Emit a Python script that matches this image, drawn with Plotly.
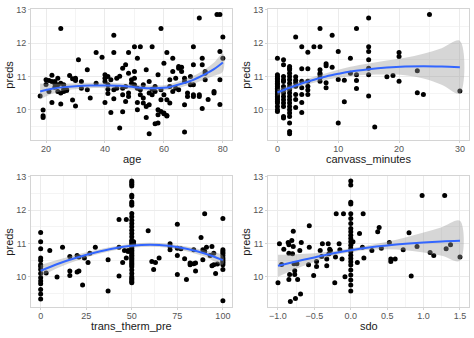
import plotly.graph_objects as go

# ---------------- data ----------------
age_x = [18, 19, 19, 19, 20, 21, 21, 22, 22, 22,
         23, 23, 24, 24, 25, 25, 25, 25, 26, 26,
         27, 28, 29, 29, 30, 30, 30, 31, 32, 32,
         34, 34, 35, 37, 37, 39, 40, 40, 40, 40,
         41, 41, 41, 41, 42, 42, 43, 43, 43, 43,
         44, 45, 45, 46, 46, 46, 46, 47, 47, 48,
         48, 48, 48, 49, 49, 50, 50, 50, 50, 51,
         51, 51, 51, 52, 52, 52, 53, 53, 53, 54,
         55, 54, 54, 55, 55, 56, 56, 56, 57, 57,
         58, 58, 58, 59, 58, 59, 59, 59, 60, 60,
         60, 60, 61, 61, 61, 61, 62, 62, 62, 63,
         63, 64, 64, 65, 65, 66, 66, 67, 67, 68,
         68, 67, 67, 69, 69, 70, 70, 70, 70, 70,
         72, 72, 72, 73, 73, 73, 74, 74, 74, 75,
         77, 77, 78, 79, 79, 79, 79, 80, 80, 20,
         23, 24, 26, 27, 44, 47, 55, 57, 63, 65]
age_preds = [10.41, 9.99, 9.82, 9.77, 10.76, 10.88, 10.55, 11.04, 10.85, 10.22,
             10.78, 10.68, 10.95, 10.55, 12.44, 10.80, 10.17, 10.50, 10.75, 10.55,
             10.60, 11.03, 10.93, 10.29, 10.88, 10.11, 10.95, 11.50, 10.85, 10.65,
             11.20, 10.60, 10.35, 11.72, 10.80, 11.58, 11.05, 10.95, 10.85, 10.22,
             11.00, 10.75, 10.49, 10.62, 9.92, 10.90, 12.24, 11.72, 10.33, 10.60,
             10.65, 11.01, 9.45, 11.25, 10.65, 10.45, 9.94, 11.35, 10.70, 11.10,
             10.50, 11.72, 10.40, 10.90, 10.80, 11.15, 11.89, 10.95, 10.75, 10.65,
             10.22, 10.00, 11.55, 11.89, 10.60, 10.45, 10.75, 10.35, 10.20, 9.77,
             9.28, 11.20, 10.10, 10.15, 10.50, 10.62, 10.45, 11.89, 10.70, 10.55,
             10.00, 9.60, 9.85, 12.44, 11.05, 10.60, 10.30, 9.95, 9.90, 9.88,
             11.40, 10.45, 10.30, 9.83, 9.81, 11.72, 10.90, 10.70, 10.20, 11.55,
             11.15, 10.95, 10.65, 11.30, 11.25, 11.15, 11.28, 10.95, 10.85, 10.50,
             10.40, 9.33, 10.15, 11.00, 10.75, 10.45, 10.40, 11.89, 11.35, 10.75,
             10.45, 10.40, 12.76, 10.04, 11.55, 11.35, 11.15, 10.90, 11.10, 10.31,
             10.50, 10.55, 12.86, 12.86, 11.75, 10.90, 10.16, 12.19, 11.55, 10.90,
             10.85, 10.75, 10.62, 10.58, 10.95, 10.25, 10.85, 9.58, 10.55, 10.60]

canvass_x = [0] * 22 + [1] * 14 + [2] * 20 + [3] * 8 + [4] * 7 + [5] * 6 + [6] + [7] * 7 + \
            [8] * 4 + [9] * 2 + [10] * 3 + [11] * 2 + [12] * 2 + [13] * 4 + [15] * 7 + [16, 18, 19] + \
            [20] * 3 + [23, 23, 24, 25, 30]
canvass_preds = [11.55, 11.05, 11.0, 10.95, 10.9, 10.85, 10.8, 10.75, 10.7, 10.65, 10.6,
                 10.55, 10.5, 10.45, 10.4, 10.35, 10.3, 10.25, 10.2, 10.1, 10.0, 9.95,
                 11.5, 11.35, 11.0, 10.9, 10.85, 10.7, 10.6, 10.5, 10.4, 10.3, 10.2, 10.1, 9.8, 9.75,
                 11.3, 11.25, 11.2, 11.1, 11.0, 10.9, 10.8, 10.7, 10.6, 10.5, 10.4, 10.3, 10.2,
                 10.1, 10.0, 9.9, 9.8, 9.6, 9.35, 9.28,
                 12.19, 10.99, 10.89, 10.81, 10.71, 10.46, 10.31, 10.07,
                 11.89, 11.23, 10.86, 10.66, 10.46, 10.22, 9.92,
                 11.73, 11.23, 10.86, 10.71, 10.59, 10.46,
                 11.89,
                 12.44, 11.89, 11.2, 11.1, 11.05, 10.96, 10.86,
                 11.38, 11.32, 10.81, 10.66,
                 12.24, 11.28,
                 11.75, 10.91, 9.6,
                 10.89, 10.24,
                 11.55, 11.1,
                 12.44, 11.05, 10.88, 10.64,
                 12.76, 11.89, 11.75, 11.5, 11.25, 11.05, 10.41,
                 9.48, 10.99, 11.03,
                 11.72, 11.6, 10.86,
                 11.17, 10.51, 10.46, 12.86, 10.56]

trans_x = [0] * 15 + [3, 5, 9, 12] + [16] * 3 + [20, 20, 21, 21, 23, 24, 26, 27, 30, 37, 37] + \
          [43] * 3 + [45, 46, 47, 47, 48, 48] + [50] * 41 + [51, 51, 59, 61, 62, 63, 65] + \
          [71] * 3 + [75] * 4 + [77, 79, 80, 82, 82, 84, 84, 85, 85, 88, 89, 89, 90, 90, 91, 93,
                                 94, 94, 95, 95, 96, 97] + [100] * 12
trans_preds = [11.33, 11.05, 10.84, 10.56, 10.49, 10.36, 10.31, 10.22, 10.1, 9.97, 9.87, 9.79,
               9.62, 9.48, 9.33,
               10.11, 10.79, 9.99, 10.89,
               10.61, 10.17, 10.04,
               10.64, 10.14, 10.59, 10.17, 9.75, 10.56, 10.43, 10.71, 10.89, 10.51, 9.57,
               11.72, 10.89, 10.02,
               10.43, 10.79, 11.72, 10.56, 10.79, 10.76,
               12.88, 12.83, 12.78, 12.73, 12.45, 12.4, 12.25, 12.2, 12.15, 11.9, 11.8, 11.7,
               11.6, 11.5, 11.4, 11.3, 11.2, 11.1, 11.05, 11.0, 10.95, 10.9, 10.85, 10.8, 10.75,
               10.7, 10.65, 10.6, 10.55, 10.5, 10.45, 10.4, 10.35, 10.3, 10.2, 10.1, 10.0, 9.95,
               9.9, 9.85, 9.82,
               11.05, 10.99, 11.38, 10.46, 10.22, 10.43, 10.56,
               10.99, 10.91, 10.81,
               11.58, 10.86, 10.64, 10.07,
               10.84, 10.54, 9.92, 10.41, 10.36, 10.81, 10.39, 10.41, 10.17, 11.18, 10.81, 10.51,
               11.89, 10.76, 10.89, 10.64, 10.91, 10.33, 10.71, 10.36, 10.1, 10.38,
               11.75, 10.81, 10.76, 10.71, 10.64, 10.56, 10.51, 10.46, 10.41, 10.36, 10.22, 9.28]

sdo_x = [-1.0, -0.98, -0.95, -0.92, -0.86, -0.85, -0.85, -0.85, -0.84, -0.83,
         -0.81, -0.80, -0.79, -0.79, -0.78, -0.77, -0.77, -0.76, -0.74, -0.73,
         -0.70, -0.69, -0.68, -0.58, -0.57, -0.57, -0.51, -0.47, -0.47, -0.42,
         -0.40, -0.39, -0.33, -0.33, -0.31, -0.30, -0.29, -0.28, -0.22, -0.21,
         -0.20, -0.16, -0.15, -0.12, -0.10, -0.08,
         0.01, 0.03, 0.09, 0.12, 0.16, 0.17, 0.18, 0.29, 0.37, 0.39,
         0.42, 0.53, 0.55, 0.55, 0.61, 0.72, 0.80, 0.83, 0.91, 0.98,
         1.09, 1.14, 1.29, 1.31, 1.37, 1.50] + [0.0] * 24
sdo_preds = [9.82, 10.99, 10.37, 10.83, 11.03, 10.96, 10.71, 9.92, 10.07, 9.26,
             11.09, 10.69, 11.37, 10.91, 10.39, 10.18, 10.07, 9.35, 10.39, 9.92,
             10.79, 9.48, 11.03, 10.36, 10.89, 11.53, 10.04, 10.46, 10.31, 10.79,
             10.61, 10.99, 10.53, 10.33, 10.99, 10.69, 10.83, 10.79, 9.82, 10.59,
             11.89, 10.99, 10.81, 10.53, 11.89, 10.00,
             11.03, 11.05, 10.43, 11.30, 10.89, 11.89, 10.56, 10.79, 11.35, 11.48,
             10.86, 11.03, 10.46, 10.53, 10.53, 10.81, 11.32, 10.02, 10.91, 12.44,
             10.73, 10.64, 12.44, 10.84, 10.96, 10.59,
             12.88, 12.76, 12.24, 12.19, 11.89, 11.75, 11.6, 11.45, 11.35, 11.25, 11.15,
             11.05, 10.95, 10.85, 10.75, 10.65, 10.55, 10.45, 10.35, 10.2, 10.05, 9.9, 9.75, 9.57]

# smoothed fits (x grid, fit, half-width of band)
age_fit_x = [18, 22, 26, 30, 35, 40, 45, 50, 55, 60, 63, 66, 70, 74, 77, 80]
age_fit = [10.55, 10.63, 10.68, 10.71, 10.73, 10.73, 10.72, 10.68, 10.65, 10.66, 10.71, 10.78,
           10.90, 11.07, 11.22, 11.42]
age_se = [0.24, 0.15, 0.10, 0.09, 0.08, 0.08, 0.08, 0.08, 0.08, 0.08, 0.09, 0.10, 0.12, 0.15,
          0.20, 0.27]

canvass_fit_x = [0, 2, 4, 6, 8, 10, 12, 15, 18, 21, 24, 27, 30]
canvass_fit = [10.52, 10.66, 10.79, 10.90, 11.00, 11.08, 11.15, 11.22, 11.27, 11.30, 11.31, 11.30, 11.28]
canvass_se = [0.10, 0.08, 0.08, 0.09, 0.10, 0.12, 0.14, 0.17, 0.21, 0.26, 0.37, 0.55, 0.79]

trans_fit_x = [0, 10, 20, 30, 40, 50, 60, 70, 80, 90, 100]
trans_fit = [10.18, 10.40, 10.58, 10.73, 10.85, 10.93, 10.96, 10.93, 10.84, 10.70, 10.50]
trans_se = [0.17, 0.12, 0.09, 0.07, 0.06, 0.06, 0.06, 0.06, 0.07, 0.09, 0.13]

sdo_fit_x = [-1.0, -0.75, -0.5, -0.25, 0.0, 0.25, 0.5, 0.75, 1.0, 1.25, 1.5]
sdo_fit = [10.33, 10.46, 10.58, 10.70, 10.80, 10.88, 10.94, 10.99, 11.03, 11.06, 11.08]
sdo_se = [0.33, 0.22, 0.13, 0.07, 0.06, 0.07, 0.11, 0.19, 0.30, 0.43, 0.60]

panels = [
    ("age", age_x, age_preds, age_fit_x, age_fit, age_se, [14.9, 83.1], 20, 10),
    ("canvass_minutes", canvass_x, canvass_preds, canvass_fit_x, canvass_fit, canvass_se, [-1.55, 31.5], 10, 5),
    ("trans_therm_pre", trans_x, trans_preds, trans_fit_x, trans_fit, trans_se, [-5.3, 105], 25, 12.5),
    ("sdo", sdo_x, sdo_preds, sdo_fit_x, sdo_fit, sdo_se, [-1.137, 1.624], 0.5, 0.25),
]

W, H = 474, 338
xdoms = [[31 / W, 232 / W], [268 / W, 469 / W]]
ydoms = [[1 - 138 / H, 1 - 5 / H], [1 - 307 / H, 1 - 174 / H]]

FONT = "Liberation Sans, Arial, sans-serif"
fig = go.Figure()
layout = dict(width=W, height=H, margin=dict(l=0, r=0, t=0, b=0),
              paper_bgcolor="white", plot_bgcolor="white", showlegend=False,
              font=dict(family=FONT))
annotations = []

for i, (name, px, py, fx, fy, fs, xr, dt, mdt) in enumerate(panels):
    k = i + 1
    xa = "x" if k == 1 else f"x{k}"
    ya = "y" if k == 1 else f"y{k}"
    col, row = i % 2, i // 2
    fig.add_trace(go.Scatter(x=px, y=py, mode="markers", xaxis=xa, yaxis=ya,
                             marker=dict(color="black", size=5, line=dict(width=0)),
                             hoverinfo="skip"))
    lo = [f - s for f, s in zip(fy, fs)]
    hi = [f + s for f, s in zip(fy, fs)]
    fig.add_trace(go.Scatter(x=fx + fx[::-1], y=hi + lo[::-1], mode="lines", xaxis=xa, yaxis=ya,
                             fill="toself", fillcolor="rgba(153,153,153,0.4)",
                             line=dict(width=0, shape="spline"), hoverinfo="skip"))
    fig.add_trace(go.Scatter(x=fx, y=fy, mode="lines", xaxis=xa, yaxis=ya,
                             line=dict(color="#3366FF", width=2, shape="spline"),
                             hoverinfo="skip"))
    axcommon = dict(showgrid=True, gridcolor="#EBEBEB", gridwidth=1, zeroline=False,
                    showline=True, mirror=True, linecolor="#D4D4D4", linewidth=1,
                    ticks="outside", ticklen=2, tickcolor="#D4D4D4", tickwidth=1,
                    tickfont=dict(family=FONT, size=9, color="#555555"))
    xkey = "xaxis" if k == 1 else f"xaxis{k}"
    ykey = "yaxis" if k == 1 else f"yaxis{k}"
    layout[xkey] = dict(domain=xdoms[col], anchor=ya, range=xr, tick0=0, dtick=dt,
                        minor=dict(showgrid=True, gridcolor="#F4F4F4", gridwidth=0.6,
                                   tick0=0, dtick=mdt),
                        ticklabelstandoff=-2, **axcommon)
    if name == "sdo":
        layout[xkey]["tickformat"] = ".1f"
    layout[ykey] = dict(domain=ydoms[row], anchor=xa, range=[9.08, 13.03], tick0=0, dtick=1,
                        minor=dict(showgrid=True, gridcolor="#F4F4F4", gridwidth=0.6,
                                   tick0=0, dtick=0.5),
                        ticklabelstandoff=0, **axcommon)
    # axis titles
    xc = (xdoms[col][0] + xdoms[col][1]) / 2
    annotations.append(dict(text=name, x=xc, y=1 - (156.5 + 169 * row) / H, xref="paper", yref="paper",
                            showarrow=False, xanchor="center", yanchor="middle",
                            font=dict(family=FONT, size=11, color="#1A1A1A")))
    annotations.append(dict(text="preds", x=(9 + 237 * col) / W, y=(ydoms[row][0] + ydoms[row][1]) / 2,
                            xref="paper", yref="paper", textangle=-90, showarrow=False,
                            xanchor="center", yanchor="middle",
                            font=dict(family=FONT, size=11, color="#1A1A1A")))

layout["annotations"] = annotations
fig.update_layout(**layout)
fig.write_html("out.html")
